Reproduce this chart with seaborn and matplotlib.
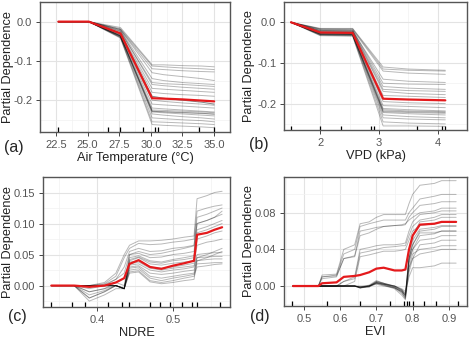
import numpy as np
import pandas as pd
import matplotlib
matplotlib.use("Agg")
import matplotlib.pyplot as plt
import seaborn as sns

# ---------------- data ----------------
# (a) Air temperature
temp_x = [22.7, 25.1, 27.6, 30.1, 31.0, 32.5, 34.0, 35.0]
temp_ice = [
    [0, 0, -0.015, -0.110, -0.110, -0.112, -0.113, -0.115],
    [0, 0, -0.018, -0.113, -0.115, -0.118, -0.120, -0.122],
    [0, 0, -0.020, -0.120, -0.122, -0.125, -0.127, -0.128],
    [0, 0, -0.022, -0.145, -0.150, -0.155, -0.158, -0.160],
    [0, 0, -0.025, -0.155, -0.158, -0.160, -0.163, -0.165],
    [0, 0, -0.024, -0.160, -0.163, -0.167, -0.170, -0.172],
    [0, 0, -0.028, -0.170, -0.172, -0.175, -0.178, -0.180],
    [0, 0, -0.030, -0.180, -0.183, -0.186, -0.188, -0.190],
    [0, 0, -0.030, -0.190, -0.195, -0.200, -0.205, -0.210],
    [0, 0, -0.032, -0.200, -0.203, -0.207, -0.210, -0.213],
    [0, 0, -0.035, -0.210, -0.212, -0.215, -0.218, -0.220],
    [0, 0, -0.036, -0.220, -0.222, -0.225, -0.228, -0.230],
    [0, 0, -0.037, -0.228, -0.230, -0.232, -0.234, -0.235],
    [0, 0, -0.038, -0.230, -0.232, -0.235, -0.238, -0.240],
    [0, 0, -0.038, -0.235, -0.238, -0.242, -0.245, -0.248],
    [0, 0, -0.040, -0.245, -0.247, -0.250, -0.252, -0.255],
    [0, 0, -0.040, -0.255, -0.256, -0.258, -0.260, -0.262],
    [0, 0, -0.042, -0.262, -0.264, -0.266, -0.268, -0.270],
    [0, 0, -0.033, -0.190, -0.195, -0.200, -0.205, -0.210],
    [0, 0, -0.036, -0.225, -0.226, -0.228, -0.230, -0.232],
    [0, 0, -0.036, -0.228, -0.229, -0.231, -0.233, -0.236],
    [0, 0, -0.020, -0.130, -0.135, -0.140, -0.145, -0.150],
]
temp_pd = [0, 0, -0.030, -0.195, -0.196, -0.198, -0.201, -0.203]
temp_rug = [22.7, 26.6, 27.55, 29.35, 30.3, 30.6, 33.8, 35.0]

# (b) VPD
vpd_x = [1.5, 2.0, 2.55, 3.07, 3.5, 4.13]
vpd_ice = [
    [0, -0.015, -0.015, -0.110, -0.115, -0.118],
    [0, -0.016, -0.016, -0.115, -0.118, -0.120],
    [0, -0.017, -0.018, -0.120, -0.125, -0.128],
    [0, -0.018, -0.019, -0.150, -0.152, -0.153],
    [0, -0.020, -0.021, -0.158, -0.162, -0.165],
    [0, -0.022, -0.022, -0.165, -0.168, -0.170],
    [0, -0.022, -0.023, -0.170, -0.175, -0.178],
    [0, -0.024, -0.025, -0.180, -0.182, -0.185],
    [0, -0.026, -0.027, -0.195, -0.198, -0.200],
    [0, -0.027, -0.028, -0.205, -0.207, -0.210],
    [0, -0.028, -0.029, -0.215, -0.218, -0.220],
    [0, -0.029, -0.030, -0.220, -0.222, -0.224],
    [0, -0.030, -0.031, -0.222, -0.225, -0.228],
    [0, -0.030, -0.031, -0.228, -0.232, -0.235],
    [0, -0.031, -0.032, -0.235, -0.238, -0.240],
    [0, -0.032, -0.033, -0.245, -0.248, -0.250],
    [0, -0.033, -0.034, -0.255, -0.255, -0.256],
    [0, -0.029, -0.030, -0.218, -0.220, -0.222],
    [0, -0.020, -0.021, -0.140, -0.145, -0.148],
    [0, -0.028, -0.029, -0.212, -0.215, -0.218],
]
vpd_pd = [0, -0.025, -0.026, -0.188, -0.190, -0.192]
vpd_rug = [1.5, 2.0, 2.35, 2.87, 2.91, 3.64, 4.07, 4.12]

# (c) NDRE
ndre_x = [0.34, 0.37, 0.39, 0.41, 0.425, 0.436, 0.443, 0.455, 0.47, 0.485,
          0.50, 0.515, 0.528, 0.532, 0.545, 0.555, 0.565]
ndre_ice = [
    [0, 0, 0, 0.005, 0.020, 0.050, 0.065, 0.072, 0.072, 0.073, 0.075, 0.078, 0.080, 0.140, 0.145, 0.150, 0.152],
    [0, 0, 0, 0.003, 0.015, 0.045, 0.060, 0.068, 0.066, 0.067, 0.070, 0.072, 0.075, 0.120, 0.125, 0.128, 0.130],
    [0, 0, -0.005, 0, 0.010, 0.030, 0.055, 0.060, 0.055, 0.056, 0.060, 0.062, 0.065, 0.110, 0.115, 0.120, 0.125],
    [0, 0, -0.010, -0.005, 0.005, 0, 0.050, 0.052, 0.045, 0.046, 0.050, 0.052, 0.055, 0.100, 0.105, 0.110, 0.115],
    [0, 0, 0, 0, 0, -0.005, 0.045, 0.048, 0.040, 0.038, 0.042, 0.045, 0.048, 0.090, 0.095, 0.100, 0.105],
    [0, 0, -0.020, -0.010, 0, -0.005, 0.040, 0.045, 0.035, 0.033, 0.036, 0.038, 0.040, 0.075, 0.080, 0.085, 0.088],
    [0, 0, 0, 0, 0, -0.005, 0.038, 0.040, 0.030, 0.028, 0.030, 0.033, 0.036, 0.065, 0.070, 0.072, 0.075],
    [0, 0, -0.025, -0.015, -0.005, -0.005, 0.035, 0.038, 0.028, 0.025, 0.028, 0.030, 0.032, 0.050, 0.052, 0.053, 0.053],
    [0, 0, 0, 0, 0, -0.005, 0.033, 0.035, 0.025, 0.022, 0.025, 0.027, 0.030, 0.045, 0.046, 0.047, 0.047],
    [0, 0, -0.010, -0.005, 0, -0.005, 0.030, 0.032, 0.020, 0.018, 0.020, 0.023, 0.025, 0.040, 0.042, 0.043, 0.043],
    [0, 0, 0, 0, 0, -0.005, 0.028, 0.030, 0.015, 0.012, 0.015, 0.018, 0.020, 0.045, 0.050, 0.055, 0.060],
    [0, 0, -0.020, -0.010, 0, -0.004, 0.025, 0.027, 0.012, 0.008, 0.012, 0.015, 0.018, 0.035, 0.036, 0.037, 0.037],
    [0, 0, 0, 0, 0, -0.005, 0.022, 0.024, 0.008, 0.005, 0.008, 0.012, 0.015, 0.030, 0.032, 0.034, 0.035],
    [0, 0, -0.015, -0.008, 0, -0.005, 0.020, 0.022, 0.006, 0.003, 0.005, 0.008, 0.010, 0.040, 0.045, 0.050, 0.055],
    [0, 0, 0, 0.002, 0.010, 0.020, 0.050, 0.055, 0.050, 0.052, 0.056, 0.060, 0.064, 0.100, 0.105, 0.110, 0.120],
    [0, 0, 0, 0, 0, -0.005, 0.042, 0.046, 0.038, 0.036, 0.040, 0.042, 0.045, 0.085, 0.090, 0.095, 0.100],
]
ndre_pd = [0, 0, -0.002, 0, 0.005, 0.012, 0.035, 0.041, 0.030, 0.027, 0.032, 0.036,
           0.040, 0.082, 0.085, 0.090, 0.094]
ndre_rug = [0.339, 0.367, 0.385, 0.415, 0.433, 0.442, 0.470, 0.483, 0.496,
            0.512, 0.525, 0.532, 0.562]

# (d) EVI
evi_x = [0.47, 0.54, 0.55, 0.59, 0.61, 0.64, 0.655, 0.68, 0.70, 0.72, 0.75,
         0.77, 0.78, 0.79, 0.80, 0.82, 0.86, 0.88, 0.92]
evi_ice = [
    [0, 0, 0.012, 0.013, 0.040, 0.045, 0.068, 0.070, 0.075, 0.078, 0.078, 0.078, 0.078, 0.090, 0.100, 0.110, 0.112, 0.115, 0.115],
    [0, 0, 0.010, 0.012, 0.035, 0.040, 0.065, 0.068, 0.070, 0.072, 0.072, 0.072, 0.072, 0.080, 0.085, 0.095, 0.098, 0.100, 0.100],
    [0, 0, 0.010, 0.011, 0.030, 0.033, 0.060, 0.062, 0.064, 0.065, 0.066, 0.066, 0.067, 0.075, 0.080, 0.088, 0.090, 0.092, 0.092],
    [0, 0, 0.008, 0.010, 0.030, 0.032, 0.055, 0.058, 0.062, 0.065, 0.066, 0.067, 0.068, 0.072, 0.075, 0.080, 0.082, 0.085, 0.085],
    [0, 0, 0, 0, 0.005, 0.010, 0.040, 0.042, 0.044, 0.045, 0.045, 0.046, 0.047, 0.060, 0.070, 0.078, 0.080, 0.082, 0.082],
    [0, 0, 0, 0, 0.005, 0.008, 0.036, 0.038, 0.040, 0.042, 0.043, 0.044, 0.044, 0.055, 0.065, 0.072, 0.075, 0.078, 0.078],
    [0, 0, 0, 0, 0, 0.005, 0.032, 0.034, 0.036, 0.038, 0.038, 0.039, 0.040, 0.050, 0.060, 0.066, 0.068, 0.070, 0.070],
    [0, 0, 0, 0, 0, 0, -0.002, 0, 0.005, 0.003, 0, -0.005, -0.010, 0.030, 0.045, 0.060, 0.062, 0.065, 0.065],
    [0, 0, 0, 0, 0, 0, -0.002, 0, 0.004, 0.002, -0.002, -0.008, -0.013, 0.025, 0.040, 0.055, 0.057, 0.060, 0.060],
    [0, 0, 0, 0, 0, 0, -0.001, 0.001, 0.006, 0.003, 0, -0.004, -0.008, 0.030, 0.045, 0.058, 0.058, 0.060, 0.060],
    [0, 0, 0, 0, 0, 0, -0.002, -0.001, 0.003, 0.001, -0.003, -0.010, -0.015, 0.015, 0.030, 0.045, 0.047, 0.050, 0.050],
    [0, 0, 0, 0, 0, 0, -0.001, 0, 0.002, 0, -0.002, -0.006, -0.010, 0.020, 0.035, 0.040, 0.042, 0.044, 0.044],
    [0, 0, 0, 0, 0, 0, 0, 0, 0.003, 0.002, 0, -0.003, -0.006, 0.010, 0.020, 0.020, 0.022, 0.025, 0.025],
    [0, 0, 0, 0, 0, 0, -0.002, 0, 0.004, 0.002, -0.001, -0.005, -0.012, 0.035, 0.055, 0.070, 0.072, 0.075, 0.075],
    [0, 0, 0, 0, 0, 0, -0.001, 0, 0.005, 0.003, -0.001, -0.007, -0.014, 0.028, 0.040, 0.050, 0.052, 0.055, 0.055],
    [0, 0, 0, 0, 0, 0, -0.002, -0.001, 0.004, 0.002, 0, -0.004, -0.009, 0.020, 0.030, 0.035, 0.038, 0.040, 0.040],
    [0, 0, 0, 0, 0, 0, -0.001, 0, 0.003, 0.001, -0.002, -0.006, -0.011, 0.030, 0.050, 0.062, 0.064, 0.066, 0.066],
]
evi_pd = [0, 0, 0.003, 0.004, 0.010, 0.011, 0.012, 0.015, 0.019, 0.020, 0.017,
          0.017, 0.018, 0.040, 0.055, 0.067, 0.068, 0.070, 0.070]
evi_rug = [0.466, 0.564, 0.655, 0.738, 0.777, 0.785, 0.790, 0.800, 0.830,
           0.864, 0.925]

panel_labels = ["(a)", "(b)", "(c)", "(d)"]
x_titles = ["Air Temperature (°C)", "VPD (kPa)", "NDRE", "EVI"]
y_title = "Partial Dependence"

# ---------------- style ----------------
sns.set_theme(style="whitegrid")
plt.rcParams["font.family"] = ["Liberation Sans", "DejaVu Sans"]
plt.rcParams["axes.unicode_minus"] = False

fig = plt.figure(figsize=(4.74, 3.39), dpi=100)
W, H = 474.0, 339.0
# axes boxes in pixels: left, top, right, bottom
boxes_px = [(40, 2, 230, 132), (284, 2, 467, 130), (43, 177, 230, 307), (284, 177, 467, 306)]
ylab_px = [(8, 67), (249, 66), (8, 242), (249, 241)]
letter_px = [(4, 148), (249, 145), (8, 316), (250, 316)]

panels = [
    (temp_x, temp_ice, temp_pd, temp_rug, (21.82, 35.73), (-0.281, 0.013),
     [22.5, 25.0, 27.5, 30.0, 32.5, 35.0], "{:.1f}", [0.0, -0.1, -0.2], "{:.1f}"),
    (vpd_x, vpd_ice, vpd_pd, vpd_rug, (1.38, 4.18), (-0.265, 0.0145),
     [2, 3, 4], "{:d}", [0.0, -0.1, -0.2], "{:.1f}"),
    (ndre_x, ndre_ice, ndre_pd, ndre_rug, (0.329, 0.5754), (-0.0345, 0.1665),
     [0.4, 0.5], "{:.1f}", [0.0, 0.05, 0.10, 0.15], "{:.2f}"),
    (evi_x, evi_ice, evi_pd, evi_rug, (0.445, 0.945), (-0.0218, 0.119),
     [0.5, 0.6, 0.7, 0.8, 0.9], "{:.1f}", [0.0, 0.04, 0.08], "{:.2f}"),
]

for i, (xs, ice, pdv, rug, xl, yl, xt, xfmt, yt, yfmt) in enumerate(panels):
    l, t, r, b = boxes_px[i]
    ax = fig.add_axes([l / W, 1 - b / H, (r - l) / W, (b - t) / H])
    rows = []
    for j, line in enumerate(ice):
        for xv, yv in zip(xs, line):
            rows.append((xv, yv, j))
    df = pd.DataFrame(rows, columns=["x", "y", "line"])
    sns.lineplot(data=df, x="x", y="y", units="line", estimator=None,
                 color="black", alpha=0.28, linewidth=0.7, ax=ax)
    sns.lineplot(x=xs, y=pdv, color="#E41A1C", linewidth=1.6, ax=ax)
    sns.rugplot(x=rug, height=0.035, color="black", linewidth=0.9, ax=ax)

    ax.set_xlim(*xl)
    ax.set_ylim(*yl)
    ax.set_xticks(xt)
    ax.set_xticklabels([xfmt.format(v) for v in xt])
    ax.set_yticks(yt)
    ax.set_yticklabels([yfmt.format(v) for v in yt])
    dx = xt[1] - xt[0]
    dy = yt[1] - yt[0]
    ax.set_xticks([v - dx / 2 for v in xt] + [xt[-1] + dx / 2], minor=True)
    ax.set_yticks([v - dy / 2 for v in yt] + [yt[-1] + dy / 2], minor=True)
    ax.grid(which="major", color="#E3E3E3", linewidth=0.8)
    ax.grid(which="minor", color="#F2F2F2", linewidth=0.5)
    ax.tick_params(which="minor", length=0)
    ax.tick_params(which="major", length=3, width=0.7, color="#444444",
                   labelcolor="#555555", labelsize=8, pad=2.5,
                   bottom=True, left=True)
    for s in ax.spines.values():
        s.set_color("#555555")
        s.set_linewidth(1.0)
    ax.set_xlabel(x_titles[i], fontsize=9.2, color="#222222", labelpad=1.5)
    ax.set_ylabel("")
    ax.set_axisbelow(True)
    yx, yy = ylab_px[i]
    fig.text(yx / W, 1 - yy / H, y_title, rotation=90, fontsize=9.2,
             color="#222222", ha="center", va="center")
    lx, ly = letter_px[i]
    fig.text(lx / W, 1 - ly / H, panel_labels[i], fontsize=11.5,
             ha="left", va="center")

fig.savefig("out.png", dpi=100)
